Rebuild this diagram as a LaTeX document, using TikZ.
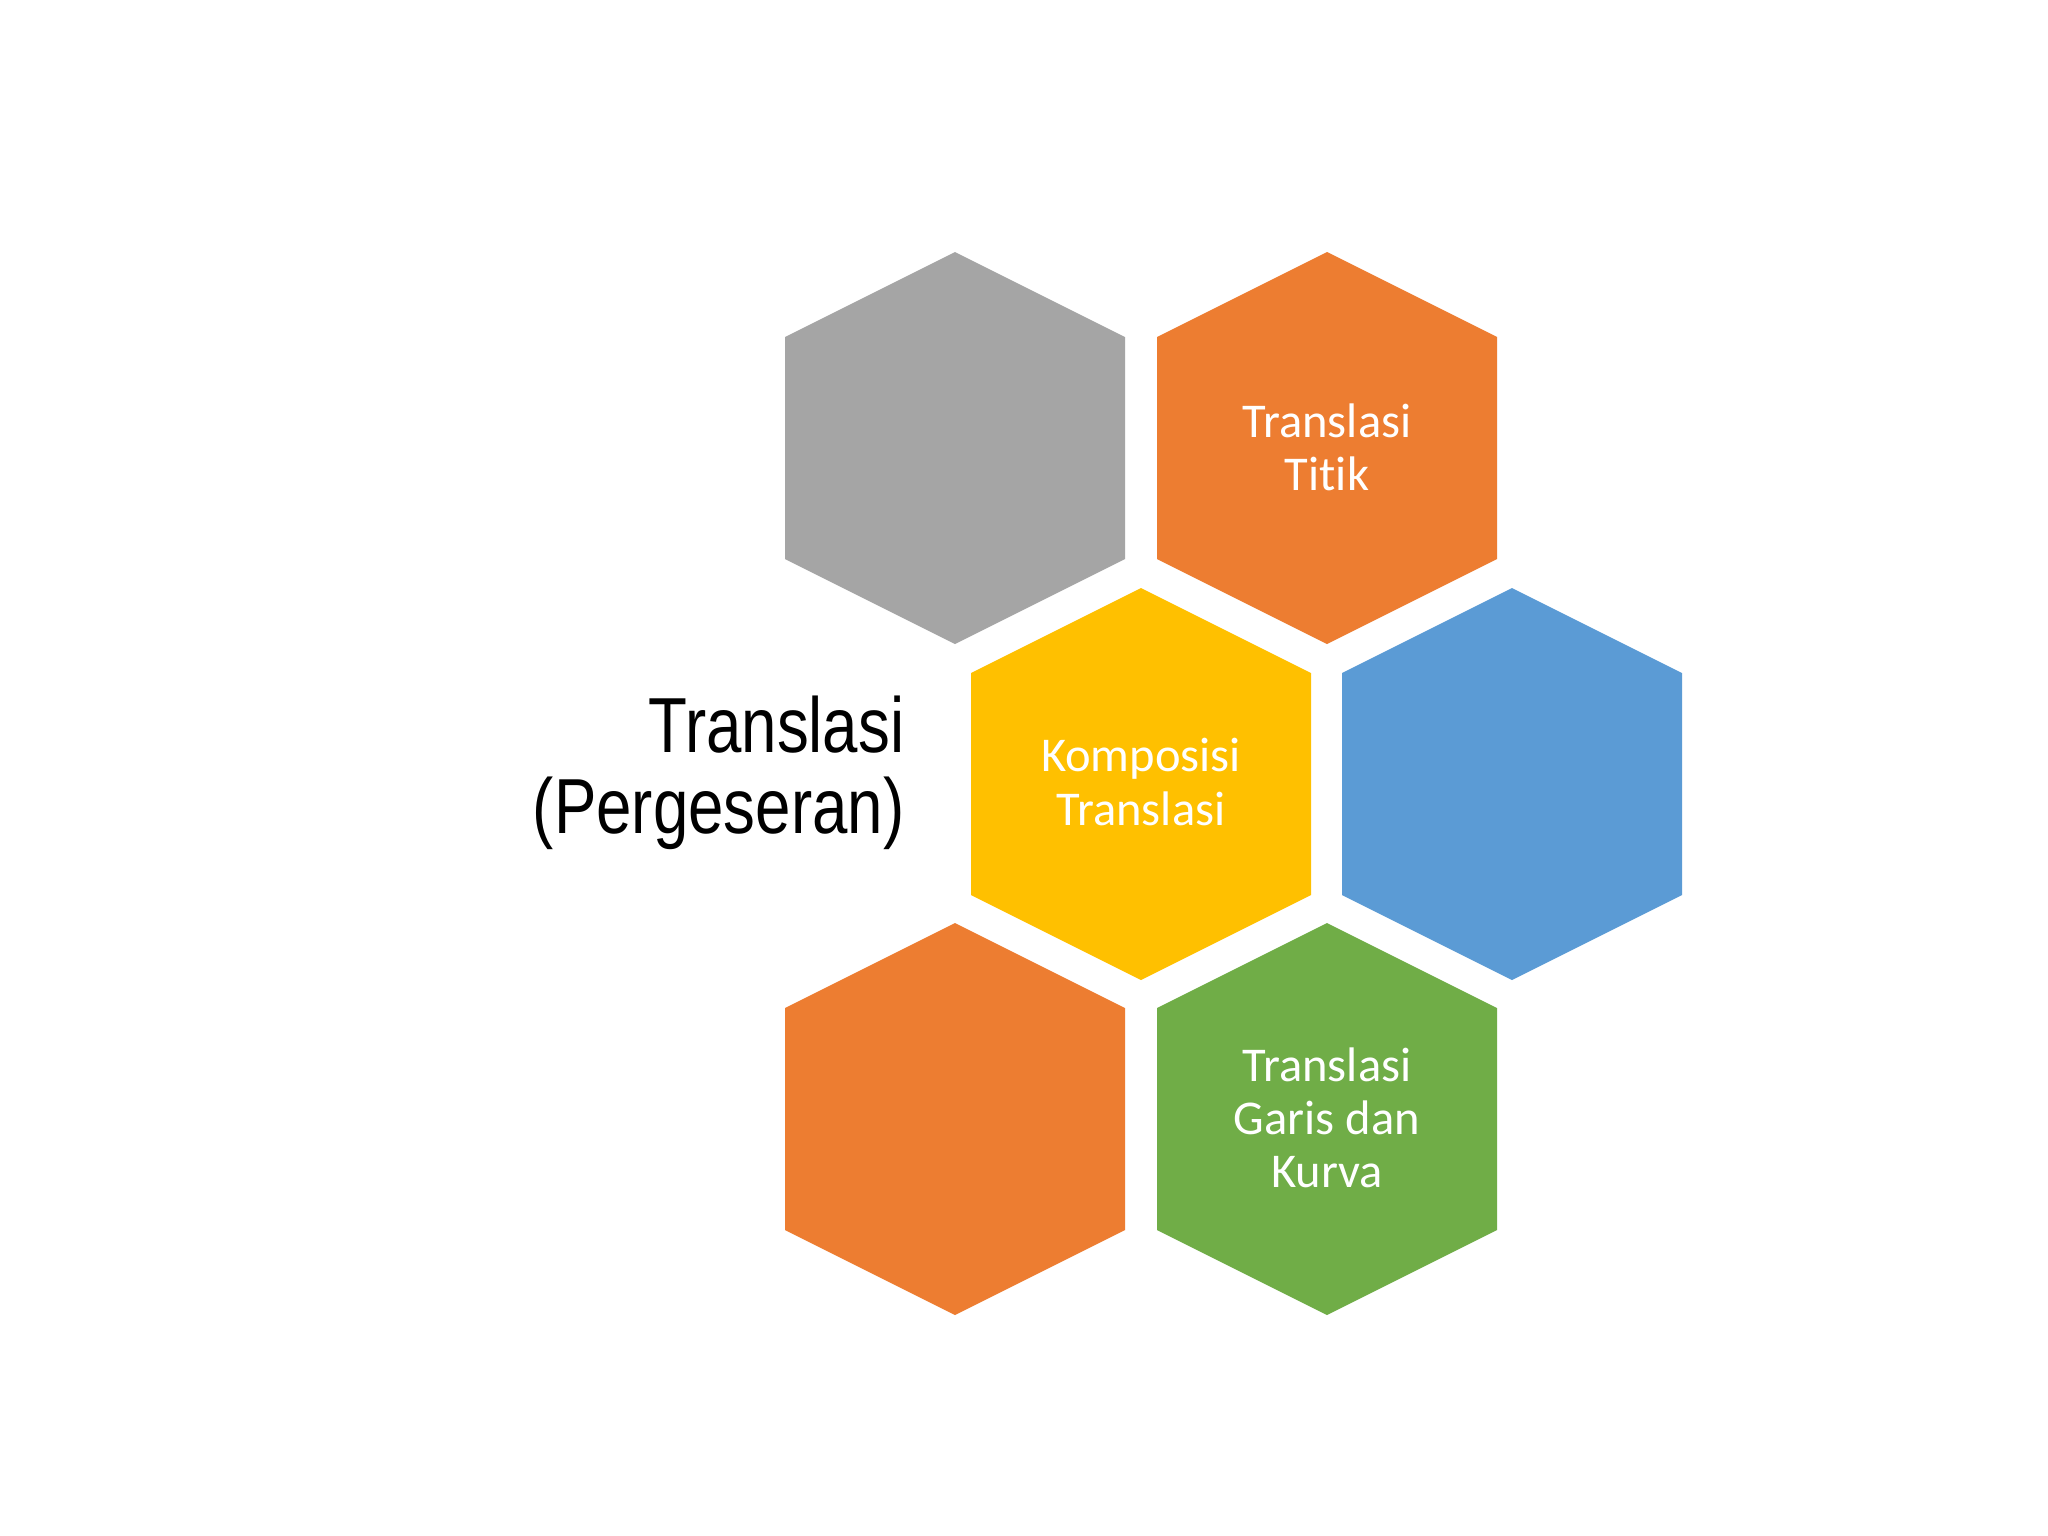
\documentclass[tikz,border=0pt]{standalone}
\usepackage{fontspec}
\setmainfont{Liberation Sans}
\newfontfamily\hexfont[Ligatures={NoCommon,NoRare,NoContextual}]{Carlito}
\definecolor{hgray}{HTML}{A5A5A5}
\definecolor{horange}{HTML}{ED7D31}
\definecolor{hyellow}{HTML}{FFC000}
\definecolor{hblue}{HTML}{5B9BD5}
\definecolor{hgreen}{HTML}{70AD47}
\newcommand\hexcell[3]{%
  \fill[#3] (#1,-#2) ++(0,196) -- ++(170,-85) -- ++(0,-222) -- ++(-170,-85) -- ++(-170,85) -- ++(0,222) -- cycle;}
\begin{document}
\begin{tikzpicture}[x=0.01cm,y=0.01cm,
  hextext/.style={text=white, align=center, inner sep=0pt,
    font=\hexfont\fontsize{13.8pt}{15.1pt}\selectfont},
  titletext/.style={text=black, inner sep=0pt,
    font=\fontsize{22.2pt}{23pt}\selectfont}]
\fill[white] (0,0) rectangle (2048,-1536);
\useasboundingbox (0,0) rectangle (2048,-1536);
\hexcell{955}{448}{hgray}
\hexcell{1327}{448}{horange}
\hexcell{1141}{784}{hyellow}
\hexcell{1512}{784}{hblue}
\hexcell{955}{1119}{horange}
\hexcell{1327}{1119}{hgreen}
\node[hextext] (titik) at (1327,-447) {Translasi\\Titik};
\node[hextext] (komposisi) at (1141,-782) {Komposisi\\Translasi};
\node[hextext] (garis) at (1327,-1118) {Translasi\\Garis dan\\Kurva};
\node[titletext, anchor=base east] (title1) at (905,-752) {\scalebox{0.815}[1]{Translasi}};
\node[titletext, anchor=base east] (title2) at (905,-833) {\scalebox{0.815}[1]{(Pergeseran)}};
\end{tikzpicture}
\end{document}
